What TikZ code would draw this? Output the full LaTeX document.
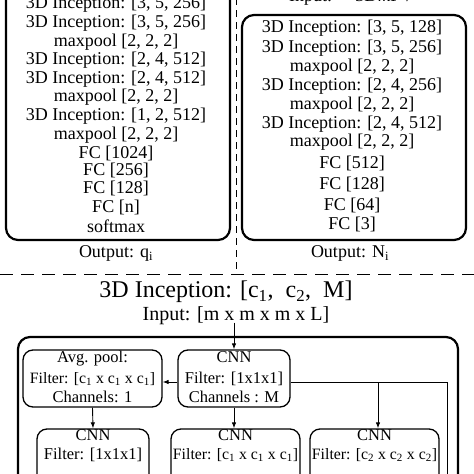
\documentclass[tikz,border=0pt]{standalone}
\usepackage{fontspec}
\setmainfont{Liberation Serif}
\usetikzlibrary{arrows.meta}
\begin{document}
\begin{tikzpicture}[x=1pt,y=-1pt,
  txt/.style={inner sep=0pt, text height=0.7em, text depth=0.2em, font=\fontsize{18}{18}\selectfont},
  itxt/.style={inner sep=0pt, text height=0.7em, text depth=0.2em, font=\fontsize{16.5}{16.5}\selectfont},
  ctxt/.style={inner sep=0pt, text height=0.7em, text depth=0.2em, font=\fontsize{15.8}{15.8}\selectfont},
  obox/.style={draw, line width=2.2pt, rounded corners=12pt, inner sep=0pt},
  ibox/.style={draw, line width=1.3pt, rounded corners=10pt, inner sep=0pt},
  conn/.style={line width=0.9pt},
  arr/.style={line width=0.9pt, -{Latex[length=6pt,width=4.5pt]}},
  sep/.style={line width=1pt}]
\useasboundingbox (0,0) rectangle (474,474);
\clip (0,0) rectangle (474,474);
% outer panels
\node[obox, minimum width=224pt, minimum height=270pt] (lbox) at (118,105) {};
\node[obox, minimum width=224pt, minimum height=225pt] (rbox) at (354,127.5) {};
% separators
\draw[sep, dash pattern=on 7pt off 5pt] (236,-2) -- (236,272);
\draw[sep, dash pattern=on 13pt off 8pt] (0,274) -- (474,274);
% left column
\node[txt] (l1) at (116,6) {3D Inception: [3, 5, 256]};
\node[txt] (l2) at (116,25) {3D Inception: [3, 5, 256]};
\node[txt] (l3) at (116,43.5) {maxpool [2, 2, 2]};
\node[txt] (l4) at (116,62) {3D Inception: [2, 4, 512]};
\node[txt] (l5) at (116,80.5) {3D Inception: [2, 4, 512]};
\node[txt] (l6) at (116,99) {maxpool [2, 2, 2]};
\node[txt] (l7) at (116,118) {3D Inception: [1, 2, 512]};
\node[txt] (l8) at (116,137) {maxpool [2, 2, 2]};
\node[txt] (l9) at (116,156) {FC [1024]};
\node[txt] (l10) at (116,173) {FC [256]};
\node[txt] (l11) at (116,191) {FC [128]};
\node[txt] (l12) at (116,210) {FC [n]};
\node[txt] (l13) at (116,230) {softmax};
\node[txt] (lout) at (116,255) {Output: q\textsubscript{i}};
% right column
\node[txt] (rin) at (352,-1) {Input: \quad\textit{3DmFV}};
\node[txt] (r1) at (352,30) {3D Inception: [3, 5, 128]};
\node[txt] (r2) at (352,49.5) {3D Inception: [3, 5, 256]};
\node[txt] (r3) at (352,69) {maxpool [2, 2, 2]};
\node[txt] (r4) at (352,87.5) {3D Inception: [2, 4, 256]};
\node[txt] (r5) at (352,107) {maxpool [2, 2, 2]};
\node[txt] (r6) at (352,126) {3D Inception: [2, 4, 512]};
\node[txt] (r7) at (352,144) {maxpool [2, 2, 2]};
\node[txt] (r8) at (352,166) {FC [512]};
\node[txt] (r9) at (352,187) {FC [128]};
\node[txt] (r10) at (352,208) {FC [64]};
\node[txt] (r11) at (352,227) {FC [3]};
\node[txt] (rout) at (350,255) {Output: N\textsubscript{i}};
% inception block
\node[inner sep=0pt, text height=0.7em, text depth=0.2em, font=\fontsize{24}{24}\selectfont] (title) at (226,295) {3D Inception: [c\textsubscript{1},~ c\textsubscript{2},~ M]};
\node[inner sep=0pt, text height=0.7em, text depth=0.2em, font=\fontsize{20}{20}\selectfont] (inp) at (236,318) {Input: [m x m x m x L]};
\node[obox, minimum width=440pt, minimum height=200pt] (ibox) at (238,437) {};
\node[ibox, minimum width=139pt, minimum height=57pt] (avg) at (92.5,378.5) {};
\node[ibox, minimum width=112pt, minimum height=57pt] (cnn) at (234,378.5) {};
\node[ibox, minimum width=112pt, minimum height=80pt] (b1) at (93,469) {};
\node[ibox, minimum width=129pt, minimum height=80pt] (b2) at (235.5,469) {};
\node[ibox, minimum width=129pt, minimum height=80pt] (b3) at (374.5,469) {};
\node[itxt] at (92.5,360) {Avg. pool:};
\node[ctxt] at (92.5,381) {Filter: [c\textsubscript{1} x c\textsubscript{1} x c\textsubscript{1}]};
\node[itxt] at (92.5,400) {Channels: 1};
\node[itxt] at (234,360) {CNN};
\node[itxt] at (234,381) {Filter: [1x1x1]};
\node[itxt] at (234,400) {Channels : M};
\node[itxt] at (93,438) {CNN};
\node[itxt] at (93,457) {Filter: [1x1x1]};
\node[itxt] at (235.5,438) {CNN};
\node[ctxt] at (235.5,457) {Filter: [c\textsubscript{1} x c\textsubscript{1} x c\textsubscript{1}]};
\node[itxt] at (374.5,438) {CNN};
\node[ctxt] at (374.5,457) {Filter: [c\textsubscript{2} x c\textsubscript{2} x c\textsubscript{2}]};
% connectors
\coordinate (rc) at (447,382);
\coordinate (rb) at (447,480);
\coordinate (br) at (378,382);
\draw[arr] (cnn.north |- inp.south) -- (cnn.north);
\draw[arr] ([yshift=-3.5pt]cnn.west) -- ([yshift=-3.5pt]avg.east);
\draw[conn] ([yshift=-3.5pt]cnn.east) -- (rc) -- (rb);
\draw[arr] (br) -- (br |- b3.north);
\draw[arr] (avg.south) -- (b1.north);
\draw[arr] (cnn.south) -- (cnn.south |- b2.north);
\end{tikzpicture}
\end{document}
